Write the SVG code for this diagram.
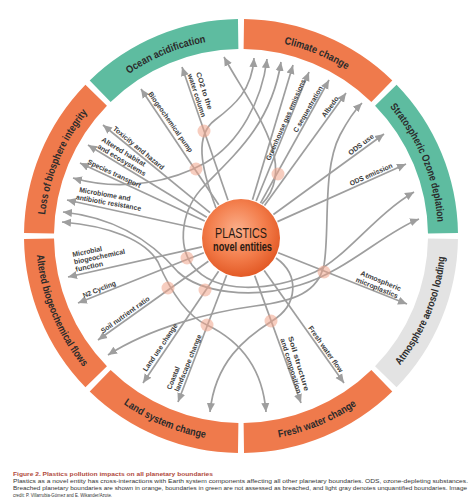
<svg xmlns="http://www.w3.org/2000/svg" width="474" height="504" viewBox="0 0 474 504">
<style>
.seg{fill:none;stroke-width:30}
.or{stroke:#ef7a4c}.gr{stroke:#5ebca0}.gy{stroke:#e3e3e3}
.rt{font-family:"Liberation Sans",Arial,sans-serif;font-weight:bold;font-size:10.5px;fill:#2b2b2b}
.ln{fill:none;stroke:#9e9e9e;stroke-width:1.7}
.lb{font-family:"Liberation Sans",Arial,sans-serif;font-weight:bold;font-size:7px;fill:#3b3b3b}
.dot{fill:#f0a48a;fill-opacity:0.55}
.cap{font-family:"Liberation Sans",Arial,sans-serif;font-size:5.6px;fill:#333}
</style>
<defs>
<marker id="ah" viewBox="0 0 10 10" refX="10" refY="5" markerWidth="9" markerHeight="9" markerUnits="userSpaceOnUse" orient="auto-start-reverse"><path d="M0,0.5 L10,5 L0,9.5 z" fill="#9e9e9e"/></marker>
<radialGradient id="cg" cx="45%" cy="40%" r="60%"><stop offset="0" stop-color="#fbb08c"/><stop offset="0.6" stop-color="#f37d4b"/><stop offset="1" stop-color="#e35a26"/></radialGradient>
<path id="tp-ocean" d="M101.7,96.7 A197,197 0 0 1 241,39"/>
<path id="tp-climate" d="M241,39 A197,197 0 0 1 380.3,96.7"/>
<path id="tp-strat" d="M380.3,96.7 A197,197 0 0 1 438,236"/>
<path id="tp-loss" d="M44,236 A197,197 0 0 1 101.7,96.7"/>
<path id="tp-atmo" d="M385.96,380.96 A205,205 0 0 0 446,236"/>
<path id="tp-fresh" d="M241,441 A205,205 0 0 0 385.96,380.96"/>
<path id="tp-land" d="M96.04,380.96 A205,205 0 0 0 241,441"/>
<path id="tp-alt" d="M36,236 A205,205 0 0 0 96.04,380.96"/>
</defs>
<rect width="474" height="504" fill="#fff"/>

<g id="ring">
<g id="n-ocean"><path class="seg gr" d="M100.17,91.19 A202,202 0 0 1 238.18,34.02"/><text class="rt"><textPath href="#tp-ocean" startOffset="50%" text-anchor="middle" textLength="84" lengthAdjust="spacingAndGlyphs">Ocean acidification</textPath></text></g>
<g id="n-climate"><path class="seg or" d="M243.82,34.02 A202,202 0 0 1 381.83,91.19"/><text class="rt"><textPath href="#tp-climate" startOffset="50%" text-anchor="middle" textLength="68" lengthAdjust="spacingAndGlyphs">Climate change</textPath></text></g>
<g id="n-strat"><path class="seg gr" d="M385.81,95.17 A202,202 0 0 1 442.98,233.18"/><text class="rt"><textPath href="#tp-strat" startOffset="50%" text-anchor="middle" textLength="127" lengthAdjust="spacingAndGlyphs">Stratospheric Ozone deplation</textPath></text></g>
<g id="n-atmo"><path class="seg gy" d="M442.98,238.82 A202,202 0 0 1 385.81,376.83"/><text class="rt"><textPath href="#tp-atmo" startOffset="50%" text-anchor="middle" textLength="119" lengthAdjust="spacingAndGlyphs">Atmosphere aerosol loading</textPath></text></g>
<g id="n-fresh"><path class="seg or" d="M381.83,380.81 A202,202 0 0 1 243.82,437.98"/><text class="rt"><textPath href="#tp-fresh" startOffset="50%" text-anchor="middle" textLength="85" lengthAdjust="spacingAndGlyphs">Fresh water change</textPath></text></g>
<g id="n-land"><path class="seg or" d="M238.18,437.98 A202,202 0 0 1 100.17,380.81"/><text class="rt"><textPath href="#tp-land" startOffset="50%" text-anchor="middle" textLength="89" lengthAdjust="spacingAndGlyphs">Land system change</textPath></text></g>
<g id="n-alt"><path class="seg or" d="M96.19,376.83 A202,202 0 0 1 39.02,238.82"/><text class="rt"><textPath href="#tp-alt" startOffset="50%" text-anchor="middle" textLength="123" lengthAdjust="spacingAndGlyphs">Altered biogeochemical flows</textPath></text></g>
<g id="n-loss"><path class="seg or" d="M39.02,233.18 A202,202 0 0 1 96.19,95.17"/><text class="rt"><textPath href="#tp-loss" startOffset="50%" text-anchor="middle" textLength="112" lengthAdjust="spacingAndGlyphs">Loss of biosphere integrity</textPath></text></g>
</g>

<g id="connectors">
<g class="ln" marker-end="url(#ah)">
<path d="M218.7,204.8 L141,89"/>
<path d="M228,200.2 L182,67"/>
<path d="M252.5,199.7 L293,65"/>
<path d="M256.2,201 L309,72"/>
<path d="M260.5,203.1 L329,80"/>
<path d="M264.5,205.6 L346,93"/>
<path d="M273.4,214.5 L384,134"/>
<path d="M277.5,221.6 L406,164"/>
<path d="M278.2,252.8 L407,304"/>
<path d="M264.2,270.6 L344,383"/>
<path d="M254.7,275.6 L301,403"/>
<path d="M226.6,275.3 L178,402"/>
<path d="M218.6,271.2 L143,383"/>
<path d="M208.4,261.2 L98,340"/>
<path d="M203.8,252.8 L78,303"/>
<path d="M202,246.8 L68,277"/>
<path d="M201.9,229.5 L67,200"/>
<path d="M204.7,221.1 L80,163"/>
<path d="M206.8,217.2 L88,145"/>
<path d="M210,212.7 L103,125"/>
<path d="M262,204 C300,165 250,105 224,57"/>
<path d="M216,208 C200,165 195,135 215,120 C235,105 252,90 254,58"/>
<path d="M276,258 C300,275 298,305 272,321 C245,338 215,362 210,412"/>
</g>
<g class="ln" marker-start="url(#ah)" marker-end="url(#ah)">
<path d="M73,178 C125,193 175,180 205,163 C240,143 262,100 267,59"/>
<path d="M281,62 C272,120 240,150 205,185 C180,210 178,245 192,265 C215,295 270,292 315,272 C345,258 375,215 414,192"/>
<path d="M62,222 C110,226 145,240 158,262 C170,290 185,315 207,325 C232,337 262,360 266,412"/>
<path d="M63,212 C120,218 155,245 178,272 C200,292 250,300 300,285 C345,272 385,232 419,219"/>
<path d="M108,355 C150,328 210,312 255,306 C295,301 318,292 324,265 C330,230 322,170 340,135 C348,120 355,110 362,103"/>
</g>
<g id="dots">
<circle class="dot" cx="204" cy="131" r="6.5"/>
<circle class="dot" cx="196" cy="169" r="6.5"/>
<circle class="dot" cx="278" cy="174" r="6.5"/>
<circle class="dot" cx="187" cy="258" r="6.5"/>
<circle class="dot" cx="168" cy="288" r="6.5"/>
<circle class="dot" cx="205" cy="290" r="6.5"/>
<circle class="dot" cx="207" cy="325" r="6.5"/>
<circle class="dot" cx="271" cy="321" r="6.5"/>
<circle class="dot" cx="324" cy="272" r="6.5"/>
</g>
<g id="labels" class="lb">
<text transform="translate(148,94) rotate(55)" textLength="72" lengthAdjust="spacingAndGlyphs">Biogeochemical pump</text>
<text transform="translate(196,73) rotate(72)"><tspan x="0" y="0" textLength="39" lengthAdjust="spacingAndGlyphs">CO2 to the</tspan><tspan x="-1" y="8.5" textLength="45" lengthAdjust="spacingAndGlyphs">water column</tspan></text>
<text transform="translate(112.5,129.5) rotate(39.5)" textLength="64" lengthAdjust="spacingAndGlyphs">Toxicity and hazard</text>
<text transform="translate(101,141) rotate(31)"><tspan x="0" y="0" textLength="50" lengthAdjust="spacingAndGlyphs">Altered habitat</tspan><tspan x="0" y="8" textLength="55" lengthAdjust="spacingAndGlyphs">and ecosystems</tspan></text>
<text transform="translate(87,163.5) rotate(25)" textLength="58" lengthAdjust="spacingAndGlyphs">Species transport</text>
<text transform="translate(79,192) rotate(10)"><tspan x="0" y="0" textLength="52" lengthAdjust="spacingAndGlyphs">Microbiome and</tspan><tspan x="-2" y="7.8" textLength="66" lengthAdjust="spacingAndGlyphs">antibiotic resistance</tspan></text>
<text transform="translate(73,257) rotate(-12)"><tspan x="0" y="0" textLength="30" lengthAdjust="spacingAndGlyphs">Microbial</tspan><tspan x="0" y="7.5" textLength="52" lengthAdjust="spacingAndGlyphs">biogeochemical</tspan><tspan x="0" y="15" textLength="28" lengthAdjust="spacingAndGlyphs">function</tspan></text>
<text transform="translate(84,298) rotate(-22)" textLength="35" lengthAdjust="spacingAndGlyphs">N2 Cycling</text>
<text transform="translate(103,333.5) rotate(-35.5)" textLength="58" lengthAdjust="spacingAndGlyphs">Soil nutrient ratio</text>
<text transform="translate(146.5,372) rotate(-56)" textLength="56" lengthAdjust="spacingAndGlyphs">Land use change</text>
<text transform="translate(171,390) rotate(-68)"><tspan x="0" y="0" textLength="24" lengthAdjust="spacingAndGlyphs">Coastal</tspan><tspan x="1" y="8" textLength="61" lengthAdjust="spacingAndGlyphs">landscape change</tspan></text>
<text transform="translate(288,337) rotate(73)"><tspan x="0" y="0" textLength="57" lengthAdjust="spacingAndGlyphs">Soil structure</tspan><tspan x="0" y="8" textLength="57" lengthAdjust="spacingAndGlyphs">and composition</tspan></text>
<text transform="translate(308,328) rotate(55)" textLength="55" lengthAdjust="spacingAndGlyphs">Fresh water flow</text>
<text transform="translate(360,275) rotate(22)"><tspan x="0" y="0" textLength="43" lengthAdjust="spacingAndGlyphs">Atmospheric</tspan><tspan x="-2" y="7.8" textLength="45" lengthAdjust="spacingAndGlyphs">microplastics</tspan></text>
<text transform="translate(350.5,155.4) rotate(-37)" textLength="30" lengthAdjust="spacingAndGlyphs">ODS use</text>
<text transform="translate(351,186) rotate(-24)" textLength="46" lengthAdjust="spacingAndGlyphs">ODS emission</text>
<text transform="translate(270,161) rotate(-66)" textLength="88" lengthAdjust="spacingAndGlyphs">Greenhouse gas emissions</text>
<text transform="translate(297,133) rotate(-60)" textLength="52" lengthAdjust="spacingAndGlyphs">C sequestration</text>
<text transform="translate(325,118) rotate(-54)" textLength="24" lengthAdjust="spacingAndGlyphs">Albedo</text>
</g>
</g>

<g id="n-plastics">
<circle cx="241" cy="238" r="39" fill="url(#cg)"/>
<text x="241" y="238" text-anchor="middle" font-family="'Liberation Sans',Arial,sans-serif" font-size="14" fill="#2a1a12" textLength="52" lengthAdjust="spacingAndGlyphs">PLASTICS</text>
<text x="242.5" y="251" text-anchor="middle" font-family="'Liberation Sans',Arial,sans-serif" font-size="12" font-weight="bold" fill="#2a1a12" textLength="59" lengthAdjust="spacingAndGlyphs">novel entities</text>
</g>

<g id="caption">
<text x="13" y="476" font-family="'Liberation Sans',Arial,sans-serif" font-size="6px" font-weight="bold" fill="#b04a3c" textLength="200" lengthAdjust="spacingAndGlyphs">Figure 2.  Plastics pollution impacts on all planetary boundaries</text>
<text class="cap" x="13" y="483" textLength="455" lengthAdjust="spacingAndGlyphs">Plastics as a novel entity has cross-interactions with Earth system components affecting all other planetary boundaries. ODS, ozone-depleting substances.</text>
<text class="cap" x="13" y="490" textLength="454" lengthAdjust="spacingAndGlyphs">Breached planetary boundaries are shown in orange, boundaries in green are not assessed as breached, and light gray denotes unquantified boundaries. Image</text>
<text class="cap" x="13" y="497" textLength="99" lengthAdjust="spacingAndGlyphs">credit: P. Villarrubia-Gómez and E. Wikander/Azote.</text>
</g>
</svg>
